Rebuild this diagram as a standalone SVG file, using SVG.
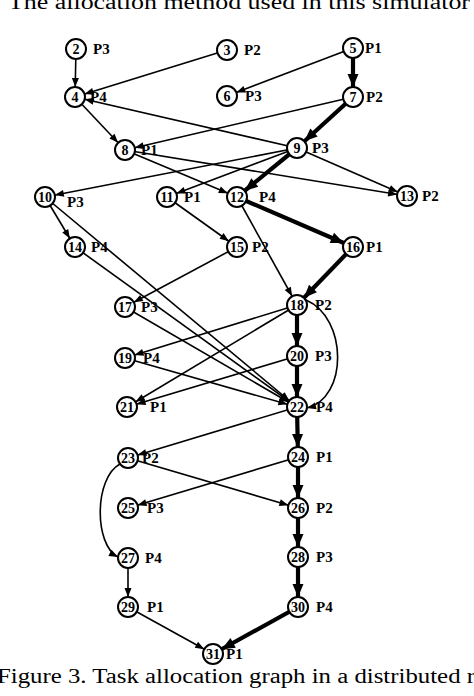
<svg xmlns="http://www.w3.org/2000/svg" width="474" height="696" viewBox="0 0 474 696">
<style>
.e{stroke:#000;stroke-width:1.6;fill:none;marker-end:url(#ah)}
.t{stroke:#000;stroke-width:4.2;fill:none;marker-end:url(#ahT)}
.c{stroke:#000;stroke-width:1.6;fill:none;marker-end:url(#ah0)}
circle{fill:#fff;stroke:#000;stroke-width:2}
text{font-family:'Liberation Serif','Times New Roman',Times,Tinos,serif}
.n{font-weight:bold;font-size:14px;text-anchor:middle}
.l{font-weight:bold;font-size:15px}
.cap{font-size:20px}
</style>
<defs>
<marker id="ah" markerUnits="userSpaceOnUse" markerWidth="20" markerHeight="8" refX="19" refY="3.5" orient="auto" overflow="visible"><path d="M0,0 L9,3.5 L0,7 z" fill="#000"/></marker>
<marker id="ah0" markerUnits="userSpaceOnUse" markerWidth="10" markerHeight="8" refX="9" refY="3.5" orient="auto" overflow="visible"><path d="M0,0 L9,3.5 L0,7 z" fill="#000"/></marker>
<marker id="ahT" markerUnits="userSpaceOnUse" markerWidth="24" markerHeight="12" refX="23" refY="5.5" orient="auto" overflow="visible"><path d="M0,0 L13,5.5 L0,11 z" fill="#000"/></marker>
</defs>
<rect width="474" height="696" fill="#fff"/>
<text class="cap" x="8" y="9" textLength="462" lengthAdjust="spacingAndGlyphs">The allocation method used in this simulator</text>
<g id="connectors">
<line class="e" x1="76" y1="49" x2="75" y2="97"/>
<line class="e" x1="227" y1="50" x2="75" y2="97"/>
<line class="e" x1="353" y1="48" x2="227" y2="96"/>
<line class="e" x1="353" y1="97" x2="125" y2="150"/>
<line class="e" x1="297" y1="148" x2="75" y2="97"/>
<line class="e" x1="75" y1="97" x2="125" y2="150"/>
<line class="e" x1="125" y1="150" x2="237" y2="197"/>
<line class="e" x1="125" y1="150" x2="407" y2="196"/>
<line class="e" x1="297" y1="148" x2="407" y2="196"/>
<line class="e" x1="297" y1="148" x2="45" y2="197"/>
<line class="e" x1="297" y1="148" x2="167" y2="197"/>
<line class="e" x1="45" y1="197" x2="75" y2="247"/>
<line class="e" x1="45" y1="197" x2="297" y2="407"/>
<line class="e" x1="75" y1="247" x2="297" y2="407"/>
<line class="e" x1="167" y1="197" x2="237" y2="247"/>
<line class="e" x1="237" y1="247" x2="125" y2="307"/>
<line class="e" x1="237" y1="197" x2="297" y2="305"/>
<line class="e" x1="125" y1="307" x2="297" y2="407"/>
<line class="e" x1="297" y1="305" x2="125" y2="358"/>
<line class="e" x1="297" y1="305" x2="127" y2="407"/>
<line class="e" x1="297" y1="356" x2="127" y2="407"/>
<line class="e" x1="125" y1="358" x2="297" y2="407"/>
<line class="e" x1="297" y1="407" x2="128" y2="458"/>
<line class="e" x1="128" y1="458" x2="298" y2="508"/>
<line class="e" x1="298" y1="457" x2="128" y2="508"/>
<line class="e" x1="128" y1="558" x2="128" y2="607"/>
<line class="e" x1="128" y1="607" x2="213" y2="654"/>
<path class="c" d="M306,300 C348,318 348,398 307,408"/>
<path class="c" d="M120,464 C94,478 94,545 118,557"/>
<line class="t" x1="353" y1="48" x2="353" y2="97"/>
<line class="t" x1="353" y1="97" x2="297" y2="148"/>
<line class="t" x1="297" y1="148" x2="237" y2="197"/>
<line class="t" x1="237" y1="197" x2="353" y2="247"/>
<line class="t" x1="353" y1="247" x2="297" y2="305"/>
<line class="t" x1="297" y1="305" x2="297" y2="356"/>
<line class="t" x1="297" y1="356" x2="297" y2="407"/>
<line class="t" x1="297" y1="407" x2="298" y2="457"/>
<line class="t" x1="298" y1="457" x2="298" y2="508"/>
<line class="t" x1="298" y1="508" x2="298" y2="557"/>
<line class="t" x1="298" y1="557" x2="298" y2="607"/>
<line class="t" x1="298" y1="607" x2="213" y2="654"/>
</g>
<g id="n2"><circle cx="76" cy="49" r="10"/><text class="n" x="76" y="54">2</text><text class="l" x="93" y="54">P3</text></g>
<g id="n3"><circle cx="227" cy="50" r="10"/><text class="n" x="227" y="55">3</text><text class="l" x="244" y="55">P2</text></g>
<g id="n5"><circle cx="353" cy="48" r="10"/><text class="n" x="353" y="53">5</text><text class="l" x="365" y="53">P1</text></g>
<g id="n4"><circle cx="75" cy="97" r="10"/><text class="n" x="75" y="102">4</text><text class="l" x="90" y="102">P4</text></g>
<g id="n6"><circle cx="227" cy="96" r="10"/><text class="n" x="227" y="101">6</text><text class="l" x="245" y="101">P3</text></g>
<g id="n7"><circle cx="353" cy="97" r="10"/><text class="n" x="353" y="102">7</text><text class="l" x="366" y="102">P2</text></g>
<g id="n8"><circle cx="125" cy="150" r="10"/><text class="n" x="125" y="155">8</text><text class="l" x="141" y="155">P1</text></g>
<g id="n9"><circle cx="297" cy="148" r="10"/><text class="n" x="297" y="153">9</text><text class="l" x="312" y="153">P3</text></g>
<g id="n10"><circle cx="45" cy="197" r="10"/><text class="n" x="45" y="202">10</text><text class="l" x="67" y="207">P3</text></g>
<g id="n11"><circle cx="167" cy="197" r="10"/><text class="n" x="167" y="202">11</text><text class="l" x="184" y="202">P1</text></g>
<g id="n12"><circle cx="237" cy="197" r="10"/><text class="n" x="237" y="202">12</text><text class="l" x="259" y="202">P4</text></g>
<g id="n13"><circle cx="407" cy="196" r="10"/><text class="n" x="407" y="201">13</text><text class="l" x="422" y="201">P2</text></g>
<g id="n14"><circle cx="75" cy="247" r="10"/><text class="n" x="75" y="252">14</text><text class="l" x="91" y="252">P4</text></g>
<g id="n15"><circle cx="237" cy="247" r="10"/><text class="n" x="237" y="252">15</text><text class="l" x="252" y="252">P2</text></g>
<g id="n16"><circle cx="353" cy="247" r="10"/><text class="n" x="353" y="252">16</text><text class="l" x="366" y="252">P1</text></g>
<g id="n17"><circle cx="125" cy="307" r="10"/><text class="n" x="125" y="312">17</text><text class="l" x="141" y="312">P3</text></g>
<g id="n18"><circle cx="297" cy="305" r="10"/><text class="n" x="297" y="310">18</text><text class="l" x="315" y="310">P2</text></g>
<g id="n19"><circle cx="125" cy="358" r="10"/><text class="n" x="125" y="363">19</text><text class="l" x="143" y="363">P4</text></g>
<g id="n20"><circle cx="297" cy="356" r="10"/><text class="n" x="297" y="361">20</text><text class="l" x="315" y="361">P3</text></g>
<g id="n21"><circle cx="127" cy="407" r="10"/><text class="n" x="127" y="412">21</text><text class="l" x="150" y="412">P1</text></g>
<g id="n22"><circle cx="297" cy="407" r="10"/><text class="n" x="297" y="412">22</text><text class="l" x="316" y="412">P4</text></g>
<g id="n23"><circle cx="128" cy="458" r="10"/><text class="n" x="128" y="463">23</text><text class="l" x="142" y="463">P2</text></g>
<g id="n24"><circle cx="298" cy="457" r="10"/><text class="n" x="298" y="462">24</text><text class="l" x="316" y="462">P1</text></g>
<g id="n25"><circle cx="128" cy="508" r="10"/><text class="n" x="128" y="513">25</text><text class="l" x="147" y="513">P3</text></g>
<g id="n26"><circle cx="298" cy="508" r="10"/><text class="n" x="298" y="513">26</text><text class="l" x="316" y="513">P2</text></g>
<g id="n27"><circle cx="128" cy="558" r="10"/><text class="n" x="128" y="563">27</text><text class="l" x="145" y="563">P4</text></g>
<g id="n28"><circle cx="298" cy="557" r="10"/><text class="n" x="298" y="562">28</text><text class="l" x="316" y="562">P3</text></g>
<g id="n29"><circle cx="128" cy="607" r="10"/><text class="n" x="128" y="612">29</text><text class="l" x="147" y="612">P1</text></g>
<g id="n30"><circle cx="298" cy="607" r="10"/><text class="n" x="298" y="612">30</text><text class="l" x="316" y="612">P4</text></g>
<g id="n31"><circle cx="213" cy="654" r="10"/><text class="n" x="213" y="659">31</text><text class="l" x="226" y="659">P1</text></g>
<text class="cap" x="-3" y="683" textLength="478" lengthAdjust="spacingAndGlyphs">Figure 3. Task allocation graph in a distributed r</text>
</svg>
